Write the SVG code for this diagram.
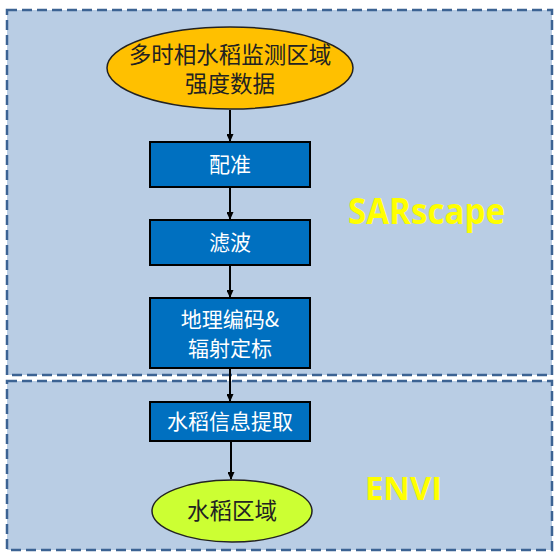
<svg xmlns="http://www.w3.org/2000/svg" width="557" height="555" viewBox="0 0 557 555">
<defs>
<style>
.panel{fill:#b9cde4;stroke:#3c6393;stroke-width:2.5;stroke-dasharray:10,5}
.box{fill:#0070c0;stroke:#000;stroke-width:2}
.bt{font-family:"Noto Sans CJK SC","Noto Sans",sans-serif;font-size:21px;fill:#fff;text-anchor:middle}
.et{font-family:"Noto Sans CJK SC","Noto Sans",sans-serif;font-size:22.5px;fill:#222;text-anchor:middle}
.lbl{font-family:"Open Sans","Liberation Sans",sans-serif;font-weight:bold;fill:#ffff00}
.conn line{stroke:#000;stroke-width:2}
</style>
<marker id="ah" markerWidth="8" markerHeight="7" refX="7" refY="3.5" orient="auto" markerUnits="userSpaceOnUse">
<path d="M0,0 L8,3.5 L0,7 z" fill="#000"/>
</marker>
</defs>
<rect width="557" height="555" fill="#fff"/>
<g id="panel-sarscape">
<rect class="panel" x="7" y="10" width="545" height="365"/>
<text class="lbl" x="348" y="224" font-size="36" textLength="157" lengthAdjust="spacingAndGlyphs">SARscape</text>
</g>
<g id="panel-envi">
<rect class="panel" x="7" y="381" width="545" height="169"/>
<text class="lbl" x="365" y="500" font-size="33" textLength="77" lengthAdjust="spacingAndGlyphs">ENVI</text>
</g>
<g id="conn" class="conn">
<line x1="230" y1="110" x2="230" y2="141" marker-end="url(#ah)"/>
<line x1="230" y1="188" x2="230" y2="219" marker-end="url(#ah)"/>
<line x1="230" y1="266" x2="230" y2="297" marker-end="url(#ah)"/>
<line x1="230" y1="369" x2="230" y2="401" marker-end="url(#ah)"/>
<line x1="231" y1="442" x2="231" y2="479" marker-end="url(#ah)"/>
</g>
<g id="n-input">
<ellipse cx="230" cy="68" rx="123" ry="41" fill="#ffc000" stroke="#222" stroke-width="1.5"/>
<text class="et" x="230" y="63">多时相水稻监测区域</text>
<text class="et" x="230" y="92">强度数据</text>
</g>
<g id="n-coreg">
<rect class="box" x="150" y="142" width="160" height="45"/>
<text class="bt" x="230" y="172">配准</text>
</g>
<g id="n-filter">
<rect class="box" x="150" y="220" width="160" height="45"/>
<text class="bt" x="230" y="250">滤波</text>
</g>
<g id="n-geocode">
<rect class="box" x="150" y="298" width="160" height="70"/>
<text class="bt" x="230" y="327">地理编码&amp;</text>
<text class="bt" x="230" y="356">辐射定标</text>
</g>
<g id="n-extract">
<rect class="box" x="150" y="402" width="160" height="39"/>
<text class="bt" x="230" y="429">水稻信息提取</text>
</g>
<g id="n-result">
<ellipse cx="232" cy="511" rx="80" ry="31" fill="#ccff33" stroke="#222" stroke-width="1.5"/>
<text class="et" x="232" y="519">水稻区域</text>
</g>
</svg>
